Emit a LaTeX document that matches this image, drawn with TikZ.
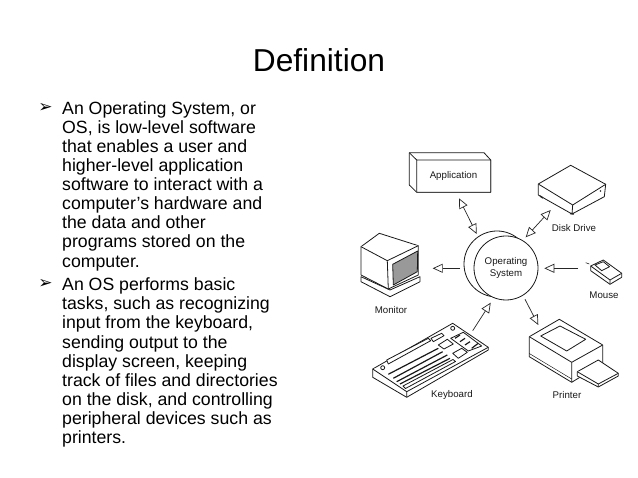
\documentclass[tikz,border=0pt]{standalone}
\usepackage{fontspec}
\setmainfont{Liberation Sans}
\newfontfamily\bulletfont{DejaVu Sans}
\usetikzlibrary{arrows.meta}
\begin{document}
\begin{tikzpicture}[x=1pt, y=-1pt,
    every node/.style={inner sep=0pt},
    titletext/.style={font=\fontsize{31.7}{36}\selectfont},
    bodytext/.style={anchor=north west, align=left, font=\fontsize{17.7}{19.08}\selectfont},
    bullettext/.style={font=\bulletfont\fontsize{17}{18}\selectfont},
    devtext/.style={font=\fontsize{9.7}{12.6}\selectfont, text=black!90, align=center},
    part/.style={draw=black!90, line width=0.8pt, line join=round, fill=white},
    link/.style={draw=black!85, line width=0.7pt, {Triangle[open, length=10pt, width=9pt, line width=0.7pt]}-{Triangle[open, length=10pt, width=9pt, line width=0.7pt]}},
    linkone/.style={draw=black!85, line width=0.7pt, -{Triangle[open, length=10pt, width=9pt, line width=0.7pt]}}]
    \useasboundingbox (0,0) rectangle (638,478);
    \fill[white] (0,0) rectangle (638,478);

    % Text
    \node[titletext] (title) at (319,60) {Definition};
    \node[bullettext] (bulletA) at (45.5,107.7) {➢};
    \node[bodytext] (bodyA) at (62,101.4) {An Operating System, or\\OS, is low-level software\\that enables a user and\\higher-level application\\software to interact with a\\computer’s hardware and\\the data and other\\programs stored on the\\computer.};
    \node[bullettext] (bulletB) at (45.5,284.3) {➢};
    \node[bodytext] (bodyB) at (62,277.8) {An OS performs basic\\tasks, such as recognizing\\input from the keyboard,\\sending output to the\\display screen, keeping\\track of files and directories\\on the disk, and controlling\\peripheral devices such as\\printers.};

    % Application
    \draw[part] (409.3,152.7) -- (484,152.7) -- (490.7,160) -- (490.7,192.3) -- (416.7,192.3) -- (409.3,185) -- cycle;
    \draw[part] (409.3,152.7) -- (416.7,160) (416.7,160) rectangle (490.7,192.3);
    \node[devtext] (application) at (453.5,176) {Application};

    % Disk drive
    \draw[part] (538.3,184) -- (570.7,165.3) -- (605.7,184.3) -- (604.3,196.7) -- (572,214) -- (538.3,195) -- cycle;
    \draw[part] (538.3,184) -- (572.7,205) -- (605.7,184.3) (572.7,205) -- (572,214);
    \fill[black!85] (600.5,191) circle (0.8);
    \draw[line width=1.4pt, black!85] (540,196) -- (543,198) (570,213.5) -- (574,214);
    \node[devtext] (disk) at (574,228) {Disk Drive};

    % Monitor
    \draw[part] (361,276.7) -- (361,281.7) -- (390,296.7) -- (420,281.7) -- (420,276.7) -- (390,290) -- cycle;
    \draw[part] (361,246.7) -- (379.3,233.3) -- (418.3,245.7) -- (418.3,275) -- (388.3,289) -- (361,275) -- cycle;
    \draw[part] (361,246.7) -- (387.3,260.7) -- (418.3,245.7) (387.3,260.7) -- (388.3,289);
    \draw[part, fill=black!40] (392.7,264.3) -- (417.7,251) -- (417.3,271.7) -- (393.3,285) -- cycle;
    \node[devtext] (monitor) at (391,310) {Monitor};

    % Keyboard
    \draw[part] (372.7,369) -- (452.7,323.3) -- (488.3,347.3) -- (488.3,350) -- (406.7,397.3) -- (372.7,377.3) -- cycle;
    \draw[part] (372.7,369) -- (406.7,391.7) -- (488.3,347.3) (406.7,391.7) -- (406.7,397.3);
    \draw[part] (386.7,360) -- (428.3,338.3) -- (430.7,340.7) -- (388.3,364) -- cycle;
    \foreach \xa/\ya/\xb/\yb in {388.3/374.3/438.3/348.3, 393.3/378.3/442.7/351.7, 396.7/381.7/447.3/355, 400/384/450/358.3}
        \draw[part, line width=1.2pt] (\xa,\ya) -- (\xb,\yb);
    \draw[part] (403,386) -- (453,359.5) -- (455.5,361.5) -- (405.5,388.5) -- cycle;
    \draw[part] (431,338.3) -- (441.7,333.3) -- (444,335.7) -- (433.3,341.7) -- cycle;
    \draw[part] (438.3,345) -- (447.3,339.3) -- (453.3,344) -- (444,349) -- cycle;
    \draw[part] (452.7,353.3) -- (461.7,348.3) -- (467.3,352.3) -- (458.3,358.3) -- cycle;
    \draw[part] (450.7,338.3) -- (463.3,332.3) -- (481.7,346) -- (468.3,351) -- cycle;
    \foreach \xa/\ya/\xb/\yb in {455/338.3/460/335, 460/341.7/465/338.3, 465/345/470/341.7, 471.7/348.3/478.3/343.3}
        \draw[part, line width=1.2pt] (\xa,\ya) -- (\xb,\yb);
    \draw[part] (382.7,367.7) circle (2);
    \draw[part] (452.7,328.3) circle (2);
    \node[devtext] (keyboard) at (452,395) {Keyboard};

    % Printer
    \draw[part] (529.3,336.7) -- (559.3,319.3) -- (602.7,345) -- (602.7,363.3) -- (571.7,382.3) -- (529.3,356.7) -- cycle;
    \draw[part] (529.3,336.7) -- (571.7,362.3) -- (602.7,345) (571.7,362.3) -- (571.7,382.3);
    \draw (529.3,353.5) -- (571.7,379);
    \draw[part] (540.7,336) -- (560,326) -- (585.7,339.3) -- (566.7,351) -- cycle;
    \draw[part] (577.3,371.7) -- (598.3,360) -- (618.3,373.3) -- (618.3,376) -- (598.3,387) -- (577.3,376) -- cycle;
    \draw[part] (577.3,371.7) -- (598.3,384) -- (618.3,373.3) (598.3,384) -- (598.3,387);
    \node[devtext] (printer) at (567,395) {Printer};

    % Mouse
    \draw[part] (590.7,266) -- (603.3,260) -- (621.7,273.3) -- (621.7,277.3) -- (610,284.3) -- (590.7,270.7) -- cycle;
    \draw[part] (590.7,266) -- (610,280) -- (621.7,273.3) (610,280) -- (610,284.3);
    \draw[part] (595,265) -- (603.3,261.7) -- (609.5,266.7) -- (601.7,270.7) -- cycle;
    \draw[black!85, line width=0.6pt] (585.7,262.7) -- (589.3,264);
    \node[devtext] (mouse) at (604,295) {Mouse};

    % Operating system
    \draw[part] (497,264) circle (33);
    \node[draw=black!90, line width=0.8pt, fill=white, circle, minimum size=64pt, align=center, devtext] (os) at (506,268) {Operating\\System};

    % Connectors
    \coordinate (appEnd) at (459,198.3);
    \coordinate (osApp) at (476.7,234);
    \coordinate (diskEnd) at (550.7,210);
    \coordinate (osDisk) at (525.7,237.3);
    \coordinate (osMonitor) at (460,268.3);
    \coordinate (monitorEnd) at (432.7,268.3);
    \coordinate (mouseEnd) at (578,268.3);
    \coordinate (osMouse) at (544.3,268.3);
    \coordinate (keyboardEnd) at (472.7,330.7);
    \coordinate (osKeyboard) at (490.7,302.7);
    \coordinate (osPrinter) at (525,299.3);
    \coordinate (printerEnd) at (538.3,325);
    \draw[link] (appEnd) -- (osApp);
    \draw[link] (diskEnd) -- (osDisk);
    \draw[linkone] (osMonitor) -- (monitorEnd);
    \draw[linkone] (mouseEnd) -- (osMouse);
    \draw[linkone] (keyboardEnd) -- (osKeyboard);
    \draw[linkone] (osPrinter) -- (printerEnd);
\end{tikzpicture}
\end{document}
